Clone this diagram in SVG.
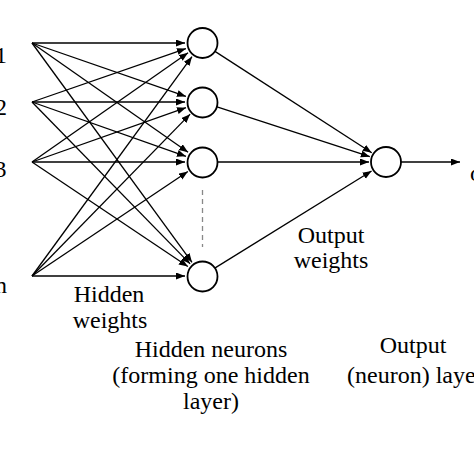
<svg xmlns="http://www.w3.org/2000/svg" width="474" height="474" viewBox="0 0 474 474">
<style>
.edge{stroke:#000;stroke-width:1.3;fill:none;marker-end:url(#arr)}
.neuron{fill:#fff;stroke:#000;stroke-width:1.8}
.lbl{font-family:"Liberation Serif","Times New Roman",serif;font-size:24px;fill:#000}
.mid{text-anchor:middle}
</style>
<defs>
<marker id="arr" markerUnits="userSpaceOnUse" markerWidth="10" markerHeight="8" refX="9" refY="3.5" orient="auto">
<path d="M0,0 L9,3.5 L0,7 z" fill="#000"/>
</marker>
</defs>
<rect width="474" height="474" fill="#fff"/>
<g id="connectors">
<line class="edge" x1="32" y1="43" x2="185" y2="43"/>
<line class="edge" x1="32" y1="43" x2="185.94" y2="96.43"/>
<line class="edge" x1="32" y1="43" x2="188.07" y2="152.25"/>
<line class="edge" x1="32" y1="43" x2="191.98" y2="262.27"/>
<line class="edge" x1="32" y1="102" x2="185.94" y2="48.57"/>
<line class="edge" x1="32" y1="102" x2="185" y2="102"/>
<line class="edge" x1="32" y1="102" x2="185.97" y2="156.34"/>
<line class="edge" x1="32" y1="102" x2="190.12" y2="263.84"/>
<line class="edge" x1="32" y1="162" x2="188.07" y2="52.75"/>
<line class="edge" x1="32" y1="162" x2="185.97" y2="107.66"/>
<line class="edge" x1="32" y1="162" x2="185" y2="162"/>
<line class="edge" x1="32" y1="162" x2="187.88" y2="266.53"/>
<line class="edge" x1="32" y1="276" x2="191.98" y2="56.73"/>
<line class="edge" x1="32" y1="276" x2="190.12" y2="114.16"/>
<line class="edge" x1="32" y1="276" x2="187.88" y2="171.47"/>
<line class="edge" x1="32" y1="276" x2="185" y2="276"/>
<line class="edge" x1="214.6" y1="51.15" x2="371.73" y2="152.77"/>
<line class="edge" x1="216.26" y1="106.65" x2="369.84" y2="156.73"/>
<line class="edge" x1="217" y1="162" x2="369" y2="162"/>
<line class="edge" x1="214.75" y1="268.1" x2="371.55" y2="170.95"/>
<line class="edge" x1="401" y1="162" x2="460" y2="162"/>
<line x1="202.5" y1="190" x2="202.5" y2="247" stroke="#888" stroke-width="1.3" stroke-dasharray="5,4"/>
</g>
<g id="inputs">
<text class="lbl" x="-5" y="63">1</text>
<text class="lbl" x="-5" y="115">2</text>
<text class="lbl" x="-5.5" y="177">3</text>
<text class="lbl" x="-5" y="293">n</text>
</g>
<g id="hidden1"><circle class="neuron" cx="202.5" cy="43" r="15"/></g>
<g id="hidden2"><circle class="neuron" cx="202.5" cy="102.5" r="15"/></g>
<g id="hidden3"><circle class="neuron" cx="202.5" cy="162.5" r="15"/></g>
<g id="hiddenN"><circle class="neuron" cx="202.5" cy="276.5" r="15"/></g>
<g id="output"><circle class="neuron" cx="386" cy="162" r="15"/></g>
<g id="labels">
<text class="lbl" x="470" y="181">o</text>
<text class="lbl mid" x="109" y="302">Hidden</text>
<text class="lbl mid" x="110" y="328">weights</text>
<text class="lbl mid" x="331" y="243">Output</text>
<text class="lbl mid" x="331" y="268">weights</text>
<text class="lbl mid" x="211" y="357">Hidden neurons</text>
<text class="lbl mid" x="211" y="383">(forming one hidden</text>
<text class="lbl mid" x="211" y="409">layer)</text>
<text class="lbl mid" x="413" y="353">Output</text>
<text class="lbl" x="347" y="383">(neuron) layer</text>
</g>
</svg>
